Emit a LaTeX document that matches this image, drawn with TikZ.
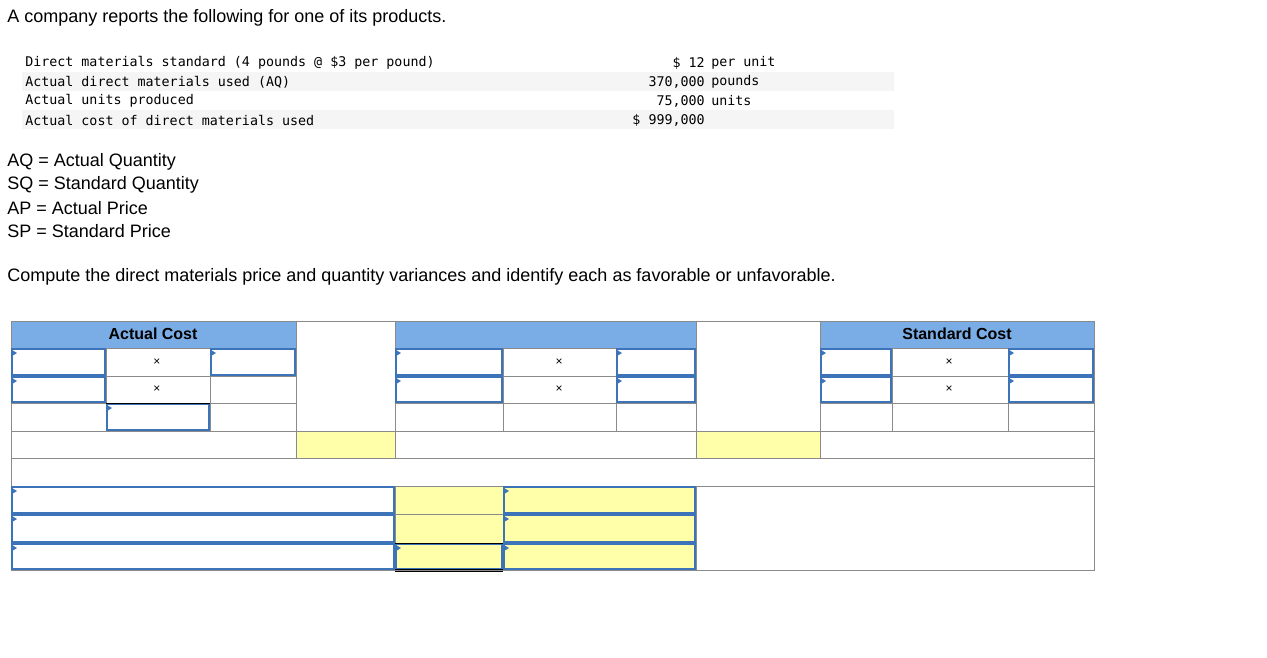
\documentclass[tikz,border=0pt]{standalone}
\usepackage{fontspec}
\setmainfont{Liberation Sans}
\setmonofont{DejaVu Sans Mono}
\definecolor{hdr}{HTML}{7AADE5}
\definecolor{yel}{HTML}{FFFFAA}
\definecolor{inb}{HTML}{3D73B8}
\definecolor{grd}{HTML}{8A8A8A}
\definecolor{shd}{HTML}{F5F5F5}
\tikzset{
 txt/.style={anchor=west,inner sep=0pt,font=\fontsize{13.5}{14}\selectfont},
 code/.style={inner sep=0pt,font=\ttfamily\fontsize{10}{11}\selectfont},
 cell/.style={draw=grd,line width=0.6pt},
 inp/.style={draw=inb,line width=1.2pt},
}
\newcommand{\Inp}[4]{\draw[inp] (#1+1,#2+1) rectangle (#3-1,#4-1);
 \fill[inb] (#1+1,#2+2) -- (#1+6,#2+5) -- (#1+1,#2+8) -- cycle;}
\newcommand{\Cell}[5]{\filldraw[cell,fill=#5] (#1,#2) rectangle (#3,#4);}
\begin{document}
\begin{tikzpicture}[x=0.75pt,y=-0.75pt]
\useasboundingbox (0,0) rectangle (1267,657);
\node[txt] (title) at (7,18) {A company reports the following for one of its products.};
\fill[shd] (22,72) rectangle (894,91);
\fill[shd] (22,110) rectangle (894,129);
\node[code,anchor=west] (l1) at (25,63) {Direct materials standard (4 pounds @ \$3 per pound)};
\node[code,anchor=west] (l2) at (25,82) {Actual direct materials used (AQ)};
\node[code,anchor=west] (l3) at (25,101) {Actual units produced};
\node[code,anchor=west] (l4) at (25,120) {Actual cost of direct materials used};
\node[code,anchor=east] (v1) at (705,63) {\$ 12};
\node[code,anchor=west] (u1) at (711,63) {per unit};
\node[code,anchor=east] (v2) at (705,82) {370,000};
\node[code,anchor=west] (u2) at (711,82) {pounds};
\node[code,anchor=east] (v3) at (705,101) {75,000};
\node[code,anchor=west] (u3) at (711,101) {units};
\node[code,anchor=east] (v4) at (705,120) {\$ 999,000};
\node[txt] (d1) at (7,162) {AQ = Actual Quantity};
\node[txt] (d2) at (7,185) {SQ = Standard Quantity};
\node[txt] (d3) at (7,208) {AP = Actual Price};
\node[txt] (d4) at (7,231) {SP = Standard Price};
\node[txt] (q) at (7,277) {Compute the direct materials price and quantity variances and identify each as favorable or unfavorable.};
% header row
\Cell{11}{321}{296}{348}{hdr}
\Cell{395}{321}{696}{348}{hdr}
\Cell{820}{321}{1094}{348}{hdr}
\Cell{296}{321}{395}{431}{white}
\Cell{696}{321}{820}{431}{white}
\node[font=\bfseries\fontsize{12}{13}\selectfont] (ac) at (153,334) {Actual Cost};
\node[font=\bfseries\fontsize{12}{13}\selectfont] (sc) at (957,334) {Standard Cost};
% grid rows 1-3
\foreach \a/\b in {11/106,106/210,210/296,395/503,503/616,616/696,820/892,892/1008,1008/1094}{
 \foreach \r/\s in {348/376,376/403,403/431}{\Cell{\a}{\r}{\b}{\s}{white}}}
\foreach \x in {157,559,949}{\foreach \y in {362,389}{\node[font=\fontsize{9}{9}\selectfont,inner sep=0pt] at (\x,\y) {×};}}
% inputs
\foreach \a/\b in {11/106,210/296,395/503,616/696,820/892,1008/1094}{\Inp{\a}{348}{\b}{376}}
\foreach \a/\b in {11/106,395/503,616/696,820/892,1008/1094}{\Inp{\a}{376}{\b}{403}}
\Inp{106}{403}{210}{431}
\draw[black,line width=1pt] (106,403.5) -- (210,403.5);
% row 4
\Cell{11}{431}{296}{458}{white}
\Cell{296}{431}{395}{458}{yel}
\Cell{395}{431}{696}{458}{white}
\Cell{696}{431}{820}{458}{yel}
\Cell{820}{431}{1094}{458}{white}
% row 5
\Cell{11}{458}{1094}{486}{white}
% bottom
\Cell{696}{486}{1094}{570}{white}
\foreach \r/\s in {486/514,514/543,543/570}{
 \Cell{11}{\r}{395}{\s}{white}
 \Cell{395}{\r}{503}{\s}{yel}
 \Cell{503}{\r}{696}{\s}{yel}
 \Inp{11}{\r}{395}{\s}
 \Inp{503}{\r}{696}{\s}}
\Inp{395}{543}{503}{570}
\draw[black,line width=1pt] (395,543.5) -- (503,543.5);
\draw[black,line width=0.6pt] (395,569.5) -- (503,569.5) (395,571.5) -- (503,571.5);
\end{tikzpicture}
\end{document}
